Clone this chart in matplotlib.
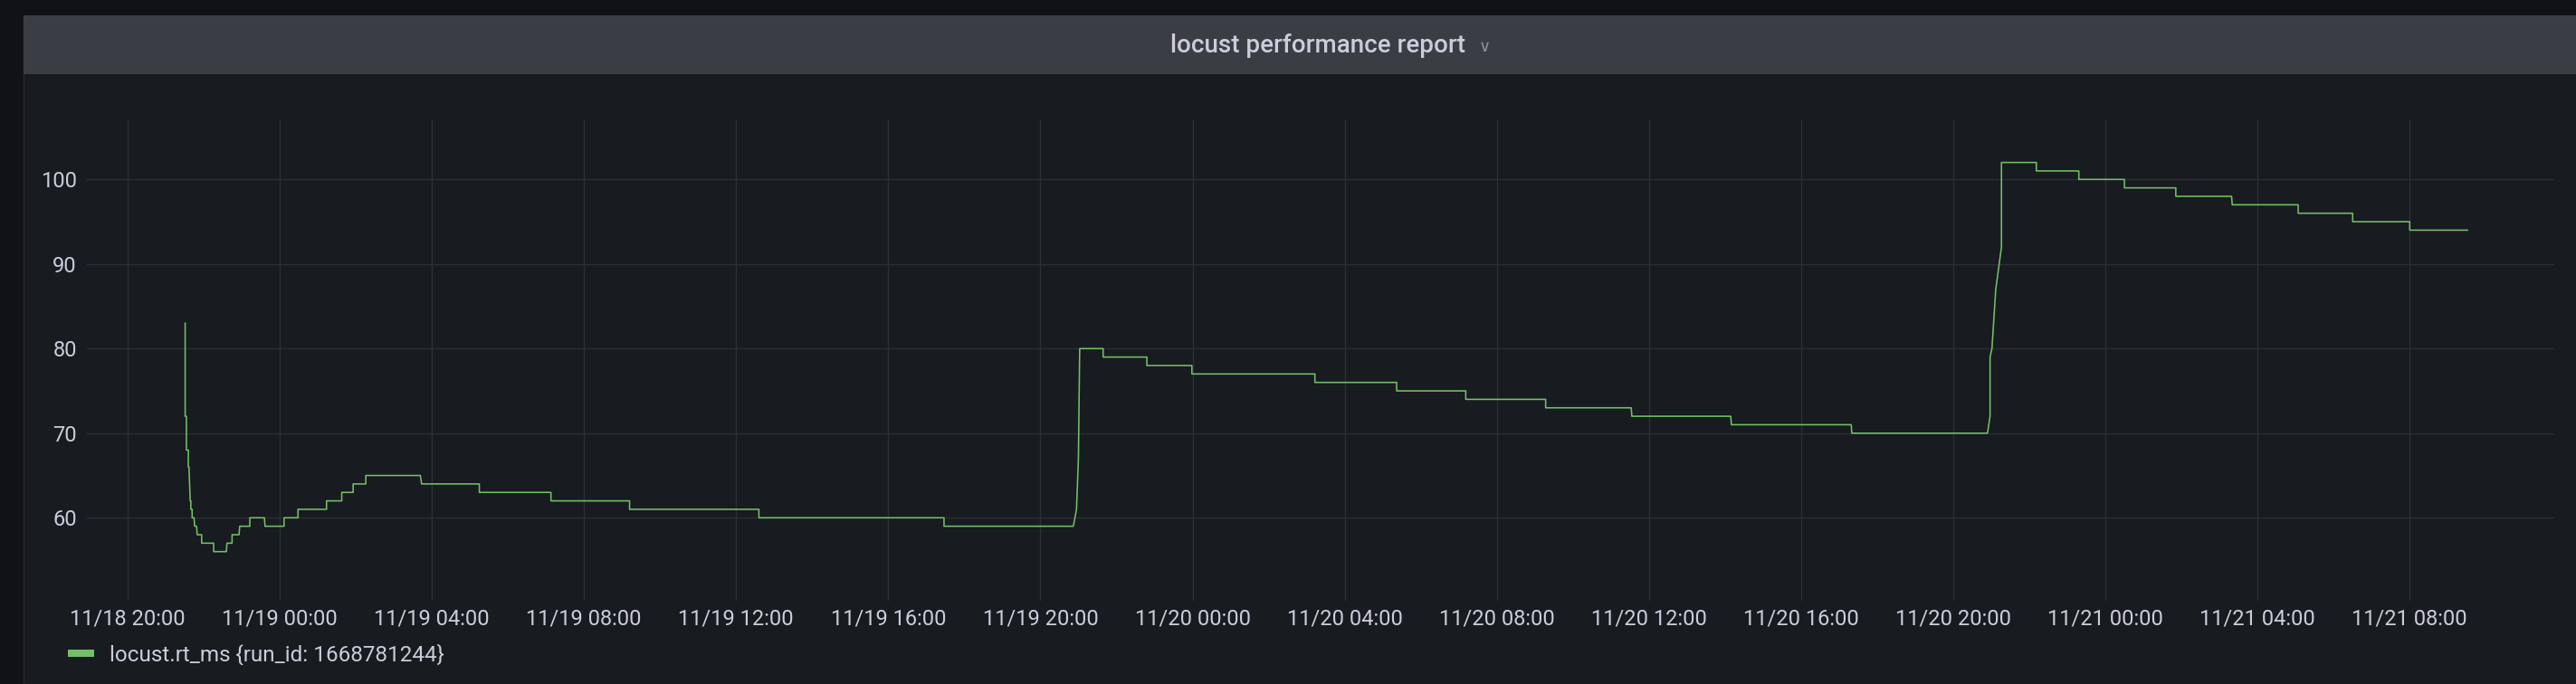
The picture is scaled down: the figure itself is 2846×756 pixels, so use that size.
import pandas as pd
import matplotlib
matplotlib.use("Agg")
import matplotlib.pyplot as plt
import matplotlib.dates as mdates
from matplotlib.lines import Line2D
from matplotlib.patches import Rectangle

plt.rcParams['font.family'] = ['Roboto', 'DejaVu Sans']

times = [
    "11-18 21:31", "11-18 21:31", "11-18 21:33", "11-18 21:33", "11-18 21:36", "11-18 21:36",
    "11-18 21:37", "11-18 21:39", "11-18 21:40", "11-18 21:40", "11-18 21:42", "11-18 21:42",
    "11-18 21:45", "11-18 21:46", "11-18 21:49", "11-18 21:50", "11-18 21:57", "11-18 21:57",
    "11-18 22:16", "11-18 22:16", "11-18 22:36", "11-18 22:37", "11-18 22:45", "11-18 22:45",
    "11-18 22:56", "11-18 22:57", "11-18 23:13", "11-18 23:13", "11-18 23:36", "11-18 23:37",
    "11-19 00:07", "11-19 00:07", "11-19 00:29", "11-19 00:29", "11-19 01:14", "11-19 01:14",
    "11-19 01:38", "11-19 01:38", "11-19 01:56", "11-19 01:56", "11-19 02:16", "11-19 02:16",
    "11-19 03:42", "11-19 03:44", "11-19 05:15", "11-19 05:15", "11-19 07:08", "11-19 07:08",
    "11-19 09:12", "11-19 09:12", "11-19 12:36", "11-19 12:36", "11-19 17:28", "11-19 17:28",
    "11-19 20:52", "11-19 20:57", "11-19 21:00", "11-19 21:02", "11-19 21:39", "11-19 21:39",
    "11-19 22:48", "11-19 22:48", "11-19 23:59", "11-19 23:59", "11-20 03:13", "11-20 03:13",
    "11-20 05:22", "11-20 05:22", "11-20 07:11", "11-20 07:11", "11-20 09:17", "11-20 09:17",
    "11-20 11:32", "11-20 11:33", "11-20 14:09", "11-20 14:10", "11-20 17:19", "11-20 17:20",
    "11-20 20:54", "11-20 20:58", "11-20 20:58", "11-20 21:01", "11-20 21:07", "11-20 21:16",
    "11-20 21:16", "11-20 22:11", "11-20 22:11", "11-20 23:18", "11-20 23:18", "11-21 00:30",
    "11-21 00:30", "11-21 01:51", "11-21 01:51", "11-21 03:19", "11-21 03:20", "11-21 05:04",
    "11-21 05:04", "11-21 06:30", "11-21 06:30", "11-21 08:00", "11-21 08:00", "11-21 09:31",
]
rt_ms = [
    83, 72, 72, 68, 68, 66,
    66, 62, 62, 61, 61, 60,
    60, 59, 59, 58, 58, 57,
    57, 56, 56, 57, 57, 58,
    58, 59, 59, 60, 60, 59,
    59, 60, 60, 61, 61, 62,
    62, 63, 63, 64, 64, 65,
    65, 64, 64, 63, 63, 62,
    62, 61, 61, 60, 60, 59,
    59, 61, 67, 80, 80, 79,
    79, 78, 78, 77, 77, 76,
    76, 75, 75, 74, 74, 73,
    73, 72, 72, 71, 71, 70,
    70, 72, 79, 80, 87, 92,
    102, 102, 101, 101, 100, 100,
    99, 99, 98, 98, 97, 97,
    96, 96, 95, 95, 94, 94,
]
y_ticks = [60, 70, 80, 90, 100]
series_name = "locust.rt_ms {run_id: 1668781244}"
title = "locust performance report"

t = pd.to_datetime(["2022-" + s for s in times])

W, H = 2846, 756
fig = plt.figure(figsize=(W / 100, H / 100), dpi=100, facecolor="#111217")

# painel e cabeçalho estilo grafana (atrás dos eixos)
fig.patches.append(Rectangle((26 / W, 0), 1, 1 - 17 / H, transform=fig.transFigure,
                             facecolor="#181b1f", edgecolor="#25272c", lw=1, zorder=-10))
fig.patches.append(Rectangle((26 / W, 1 - 82 / H), 1, 65 / H, transform=fig.transFigure,
                             facecolor="#3a3d43", lw=0, zorder=-9))
fig.text(1456 / W, 1 - 50 / H, title, ha="center", va="center", fontsize=20,
         fontweight="medium", color="#ccccdc")
fig.text(1640 / W, 1 - 52 / H, "∨", ha="center", va="center", fontsize=13,
         color="#8e8e9a", family="DejaVu Sans")

ax = fig.add_axes([96 / W, 1 - 664 / H, (2822 - 96) / W, (664 - 132) / H])
ax.set_facecolor("none")
ax.plot(t, rt_ms, color="#73bf69", lw=1.15)

ax.set_xlim(pd.Timestamp("2022-11-18 18:56"), pd.Timestamp("2022-11-21 11:48"))
ax.set_ylim(50.19, 107.09)
ax.set_yticks(y_ticks)
ax.xaxis.set_major_locator(mdates.HourLocator(byhour=range(0, 24, 4)))
ax.xaxis.set_major_formatter(mdates.DateFormatter("%m/%d %H:%M"))
ax.grid(True, color="#2c2f33", lw=1)
ax.set_axisbelow(True)
for s in ax.spines.values():
    s.set_visible(False)
ax.tick_params(length=0, colors="#ccccdc", labelsize=17)
ax.tick_params(axis="x", pad=6)
ax.tick_params(axis="y", pad=8)

handle = Line2D([], [], color="#73bf69", lw=5.8, solid_capstyle="butt")
fig.legend([handle], [series_name], loc="center left", bbox_to_anchor=(75 / W, 1 - 724 / H),
           frameon=False, fontsize=17.5, labelcolor="#ccccdc", handlelength=1.2,
           handletextpad=0.68, borderpad=0, borderaxespad=0)

fig.savefig("out.png", dpi=100, facecolor=fig.get_facecolor())
